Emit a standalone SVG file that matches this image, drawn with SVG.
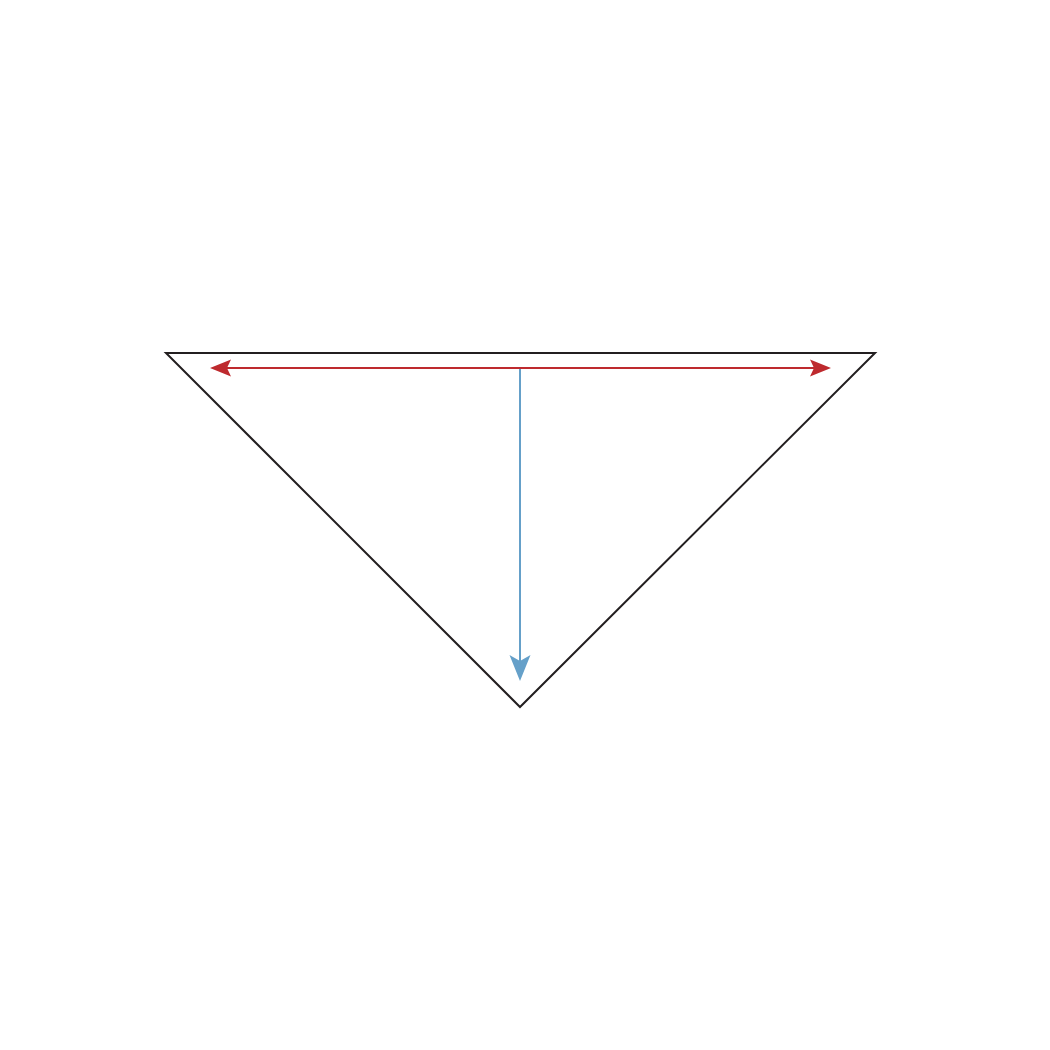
<svg xmlns="http://www.w3.org/2000/svg" width="1050" height="1050" viewBox="0 0 1050 1050">
<style>
.tri{fill:none;stroke:#231f20;stroke-width:2}
.red{stroke:#be2a2e;stroke-width:2;fill:none}
.blue{stroke:#65a0c9;stroke-width:2;fill:none}
</style>
<rect width="1050" height="1050" fill="#ffffff"/>
<g id="triangle">
<polygon class="tri" points="166,353 875,353 520,707"/>
</g>
<g id="connectors">
<line class="red" x1="226" y1="368" x2="815" y2="368"/>
<path d="M210,368 L231,359.5 L227,368 L231,376.5 Z" fill="#be2a2e"/>
<path d="M831,368 L810,359.5 L814,368 L810,376.5 Z" fill="#be2a2e"/>
<line class="blue" x1="520" y1="369" x2="520" y2="662"/>
<path d="M520,681 L509.5,655 L520,661 L530.5,655 Z" fill="#65a0c9"/>
</g>
</svg>
